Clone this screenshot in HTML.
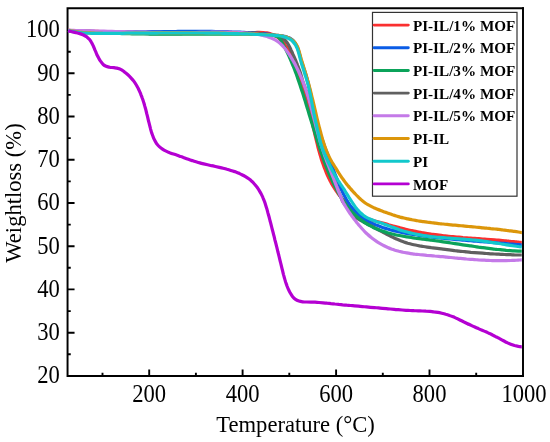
<!DOCTYPE html>
<html><head><meta charset="utf-8"><title>TGA</title>
<style>html,body{margin:0;padding:0;background:#fff}svg{display:block}</style></head>
<body>
<svg width="550" height="442" viewBox="0 0 550 442">
<rect width="550" height="442" fill="#fff"/>
<clipPath id="c"><rect x="67.25" y="8.15" width="454.55" height="367.85"/></clipPath>
<path d="M102.5,376.0v-3.2M149.2,376.0v-6.6M195.9,376.0v-3.2M242.6,376.0v-6.6M289.3,376.0v-3.2M336.1,376.0v-6.6M382.8,376.0v-3.2M429.5,376.0v-6.6M476.2,376.0v-3.2M67.55,375.9h7.0M67.55,354.3h3.2M67.55,332.7h7.0M67.55,311.1h3.2M67.55,289.4h7.0M67.55,267.8h3.2M67.55,246.2h7.0M67.55,224.6h3.2M67.55,203.0h7.0M67.55,181.4h3.2M67.55,159.7h7.0M67.55,138.1h3.2M67.55,116.5h7.0M67.55,94.9h3.2M67.55,73.3h7.0M67.55,51.7h3.2M67.55,30.1h7.0" stroke="#000" stroke-width="1.9" fill="none"/>
<path d="M67.55,7.15V377.0M66.55,376.0H524.0M66.55,8.15H524.0" fill="none" stroke="#000" stroke-width="1.95"/>
<g clip-path="url(#c)" fill="none" stroke-width="3.2" stroke-linecap="butt" stroke-linejoin="round">
<path stroke="#FA3030" d="M68.0,30.4C68.6,30.4 70.6,30.5 72.0,30.5C73.3,30.6 74.6,30.6 76.0,30.7C77.3,30.7 78.6,30.8 79.9,30.8C81.3,30.9 82.6,30.9 83.9,31.0C85.3,31.0 86.6,31.1 87.9,31.1C89.2,31.2 90.6,31.2 91.9,31.3C93.2,31.3 94.6,31.4 95.9,31.4C97.2,31.4 98.5,31.5 99.9,31.5C101.2,31.6 102.5,31.6 103.8,31.6C105.2,31.7 106.5,31.7 107.8,31.8C109.1,31.8 110.5,31.8 111.8,31.9C113.1,31.9 114.4,31.9 115.7,32.0C117.1,32.0 118.4,32.0 119.7,32.1C121.0,32.1 122.4,32.1 123.7,32.2C125.0,32.2 126.3,32.2 127.6,32.2C129.0,32.3 130.3,32.3 131.6,32.3C132.9,32.4 134.2,32.4 135.6,32.4C136.9,32.4 138.2,32.4 139.5,32.5C140.9,32.5 142.2,32.5 143.5,32.5C144.8,32.6 146.1,32.6 147.5,32.6C148.8,32.6 150.1,32.6 151.4,32.7C152.7,32.7 154.1,32.7 155.4,32.7C156.7,32.7 158.0,32.7 159.3,32.8C160.7,32.8 162.0,32.8 163.3,32.8C164.6,32.8 165.9,32.8 167.3,32.8C168.6,32.8 169.9,32.9 171.2,32.9C172.6,32.9 173.9,32.9 175.2,32.9C176.5,32.9 177.8,32.9 179.2,32.9C180.5,32.9 181.8,32.9 183.1,32.9C184.5,32.9 185.8,32.9 187.1,32.9C188.4,32.9 189.7,32.9 191.1,32.9C192.4,32.9 193.7,33.0 195.0,33.0C196.4,33.0 197.7,33.0 199.0,32.9C200.4,32.9 201.7,32.9 203.0,32.9C204.3,32.9 205.7,32.9 207.0,32.9C208.3,32.9 209.6,32.9 211.0,32.9C212.3,32.9 213.6,32.9 215.0,32.9C216.3,32.9 217.6,32.9 219.0,32.9C220.3,32.9 221.6,32.9 223.0,32.8C224.3,32.8 225.6,32.8 227.0,32.8C228.3,32.8 229.6,32.8 231.0,32.8C232.3,32.8 233.6,32.8 235.0,32.7C236.3,32.7 237.6,32.7 239.0,32.7C240.3,32.7 241.7,32.7 243.0,32.6C244.3,32.6 245.7,32.6 247.0,32.6C248.4,32.6 249.7,32.6 251.0,32.5C252.4,32.5 253.7,32.5 255.1,32.5C256.4,32.5 257.8,32.4 259.1,32.4C260.4,32.4 261.8,32.4 263.1,32.5C264.4,32.6 265.7,32.7 267.0,32.9C268.2,33.1 269.5,33.4 270.7,33.8C271.9,34.1 273.1,34.6 274.2,35.2C275.4,35.8 276.5,36.5 277.5,37.2C278.6,38.0 279.6,38.8 280.5,39.7C281.5,40.6 282.4,41.6 283.3,42.6C284.1,43.6 284.9,44.6 285.6,45.7C286.4,46.8 287.1,47.9 287.7,49.1C288.3,50.2 288.9,51.4 289.5,52.6C290.0,53.8 290.6,55.0 291.1,56.3C291.6,57.5 292.0,58.8 292.5,60.0C292.9,61.3 293.4,62.6 293.8,63.8C294.2,65.1 294.6,66.4 295.1,67.7C295.5,69.0 295.9,70.2 296.4,71.5C296.8,72.8 297.2,74.0 297.7,75.3C298.1,76.6 298.6,77.8 299.0,79.1C299.5,80.3 299.9,81.6 300.4,82.8C300.8,84.1 301.3,85.3 301.7,86.5C302.2,87.8 302.6,89.0 303.1,90.3C303.5,91.5 303.9,92.8 304.4,94.0C304.8,95.3 305.2,96.5 305.6,97.8C306.0,99.0 306.4,100.3 306.8,101.5C307.2,102.8 307.6,104.0 307.9,105.3C308.3,106.6 308.6,107.8 309.0,109.1C309.3,110.4 309.6,111.7 309.9,112.9C310.3,114.2 310.6,115.5 310.9,116.8C311.2,118.1 311.5,119.4 311.8,120.6C312.1,121.9 312.4,123.2 312.7,124.5C313.0,125.8 313.3,127.1 313.6,128.4C313.9,129.7 314.2,131.0 314.4,132.3C314.7,133.6 315.0,134.9 315.3,136.2C315.6,137.4 315.9,138.7 316.2,140.0C316.5,141.3 316.8,142.6 317.2,143.9C317.5,145.2 317.8,146.5 318.1,147.8C318.5,149.1 318.8,150.4 319.2,151.6C319.5,152.9 319.9,154.2 320.3,155.5C320.6,156.8 321.0,158.0 321.4,159.3C321.8,160.6 322.2,161.9 322.7,163.1C323.1,164.4 323.6,165.6 324.0,166.9C324.5,168.1 325.0,169.4 325.5,170.6C325.9,171.8 326.5,173.1 327.0,174.3C327.5,175.5 328.1,176.7 328.6,177.9C329.2,179.1 329.8,180.3 330.4,181.4C331.0,182.6 331.7,183.7 332.3,184.9C333.0,186.0 333.7,187.1 334.4,188.2C335.1,189.4 335.8,190.4 336.6,191.5C337.3,192.6 338.1,193.6 338.9,194.7C339.7,195.7 340.6,196.7 341.4,197.7C342.3,198.7 343.2,199.7 344.1,200.7C345.0,201.6 346.0,202.6 346.9,203.5C347.9,204.4 348.8,205.3 349.8,206.2C350.8,207.1 351.8,208.0 352.8,208.9C353.8,209.8 354.9,210.6 355.9,211.5C356.9,212.3 358.0,213.1 359.1,213.9C360.1,214.6 361.3,215.3 362.4,216.0C363.5,216.6 364.7,217.2 365.9,217.8C367.0,218.4 368.2,218.8 369.5,219.3C370.7,219.8 372.0,220.1 373.2,220.5C374.5,220.9 375.8,221.2 377.1,221.5C378.3,221.9 379.6,222.2 380.9,222.5C382.2,222.8 383.5,223.2 384.8,223.5C386.1,223.9 387.3,224.3 388.6,224.7C389.9,225.0 391.2,225.4 392.4,225.8C393.7,226.1 395.0,226.5 396.3,226.8C397.5,227.2 398.8,227.5 400.1,227.9C401.4,228.2 402.7,228.5 404.0,228.8C405.2,229.2 406.5,229.5 407.8,229.8C409.1,230.1 410.4,230.3 411.7,230.6C413.0,230.9 414.3,231.2 415.6,231.4C416.9,231.7 418.2,231.9 419.5,232.2C420.8,232.4 422.1,232.7 423.4,232.9C424.7,233.1 426.0,233.3 427.3,233.5C428.6,233.8 429.9,234.0 431.2,234.2C432.6,234.3 433.9,234.5 435.2,234.7C436.5,234.9 437.8,235.1 439.1,235.2C440.4,235.4 441.7,235.5 443.1,235.7C444.4,235.8 445.7,236.0 447.0,236.1C448.3,236.3 449.6,236.4 451.0,236.5C452.3,236.6 453.6,236.8 454.9,236.9C456.2,237.0 457.6,237.1 458.9,237.2C460.2,237.3 461.5,237.4 462.9,237.6C464.2,237.7 465.5,237.8 466.8,237.9C468.1,238.0 469.5,238.1 470.8,238.2C472.1,238.3 473.4,238.3 474.8,238.4C476.1,238.5 477.4,238.6 478.7,238.7C480.1,238.8 481.4,238.9 482.7,239.0C484.0,239.1 485.4,239.2 486.7,239.3C488.0,239.4 489.3,239.5 490.6,239.6C492.0,239.7 493.3,239.8 494.6,239.9C495.9,240.0 497.3,240.1 498.6,240.2C499.9,240.3 501.2,240.4 502.5,240.5C503.9,240.6 505.2,240.7 506.5,240.9C507.8,241.0 509.1,241.1 510.5,241.3C511.8,241.4 513.1,241.5 514.4,241.7C515.7,241.8 517.0,242.0 518.4,242.1C519.7,242.3 521.6,242.5 522.3,242.6"/>
<path stroke="#0A5CE6" d="M68.0,30.4C68.7,30.5 70.7,30.6 72.0,30.6C73.3,30.7 74.7,30.8 76.0,30.8C77.3,30.9 78.6,31.0 80.0,31.0C81.3,31.1 82.6,31.1 84.0,31.2C85.3,31.2 86.6,31.3 88.0,31.3C89.3,31.4 90.6,31.4 91.9,31.4C93.3,31.5 94.6,31.5 95.9,31.5C97.3,31.6 98.6,31.6 99.9,31.6C101.3,31.6 102.6,31.7 103.9,31.7C105.3,31.7 106.6,31.7 107.9,31.7C109.3,31.8 110.6,31.8 111.9,31.8C113.3,31.8 114.6,31.8 115.9,31.8C117.2,31.8 118.6,31.8 119.9,31.8C121.2,31.8 122.6,31.8 123.9,31.8C125.2,31.8 126.6,31.8 127.9,31.8C129.2,31.8 130.6,31.8 131.9,31.8C133.2,31.8 134.6,31.8 135.9,31.8C137.2,31.8 138.6,31.8 139.9,31.8C141.2,31.8 142.6,31.8 143.9,31.8C145.2,31.8 146.6,31.7 147.9,31.7C149.2,31.7 150.6,31.7 151.9,31.7C153.2,31.7 154.6,31.7 155.9,31.7C157.2,31.6 158.5,31.6 159.9,31.6C161.2,31.6 162.5,31.6 163.9,31.6C165.2,31.6 166.5,31.5 167.9,31.5C169.2,31.5 170.5,31.5 171.9,31.5C173.2,31.5 174.5,31.5 175.9,31.5C177.2,31.5 178.5,31.4 179.9,31.4C181.2,31.4 182.5,31.4 183.9,31.4C185.2,31.4 186.5,31.4 187.9,31.4C189.2,31.4 190.5,31.4 191.9,31.4C193.2,31.4 194.5,31.4 195.8,31.4C197.2,31.4 198.5,31.4 199.8,31.4C201.2,31.4 202.5,31.4 203.8,31.4C205.2,31.4 206.5,31.4 207.8,31.4C209.2,31.4 210.5,31.4 211.8,31.4C213.1,31.5 214.5,31.5 215.8,31.5C217.1,31.5 218.5,31.5 219.8,31.6C221.1,31.6 222.5,31.6 223.8,31.6C225.1,31.7 226.4,31.7 227.8,31.7C229.1,31.8 230.4,31.8 231.8,31.9C233.1,31.9 234.4,31.9 235.8,32.0C237.1,32.0 238.4,32.1 239.7,32.1C241.1,32.2 242.4,32.3 243.7,32.3C245.1,32.4 246.4,32.5 247.7,32.5C249.0,32.6 250.4,32.7 251.7,32.8C253.0,32.9 254.4,32.9 255.7,33.0C257.0,33.1 258.4,33.2 259.7,33.4C261.0,33.5 262.3,33.6 263.7,33.7C265.0,33.8 266.3,34.0 267.7,34.1C269.0,34.3 270.3,34.4 271.7,34.6C273.0,34.7 274.3,34.9 275.7,35.1C277.0,35.2 278.4,35.4 279.7,35.6C281.0,35.8 282.4,36.0 283.7,36.2C285.0,36.5 286.3,36.7 287.6,37.2C288.8,37.6 290.0,38.1 291.0,38.8C292.0,39.4 293.0,40.2 293.8,41.2C294.6,42.1 295.3,43.2 295.9,44.3C296.6,45.4 297.1,46.6 297.6,47.9C298.1,49.2 298.5,50.5 298.9,51.9C299.3,53.2 299.7,54.6 300.0,56.0C300.4,57.3 300.8,58.7 301.1,60.0C301.5,61.3 301.9,62.6 302.3,63.9C302.7,65.1 303.2,66.4 303.6,67.6C304.0,68.9 304.4,70.1 304.8,71.3C305.2,72.6 305.6,73.8 306.0,75.0C306.4,76.3 306.7,77.5 307.1,78.8C307.4,80.1 307.8,81.4 308.1,82.6C308.4,83.9 308.7,85.2 309.0,86.5C309.3,87.8 309.6,89.1 309.9,90.4C310.2,91.7 310.5,93.0 310.7,94.3C311.0,95.7 311.3,97.0 311.6,98.3C311.8,99.6 312.1,100.9 312.4,102.3C312.6,103.6 312.9,104.9 313.2,106.2C313.4,107.5 313.7,108.9 314.0,110.2C314.3,111.5 314.6,112.8 314.9,114.1C315.2,115.4 315.5,116.7 315.8,118.0C316.1,119.3 316.4,120.6 316.8,121.9C317.1,123.2 317.4,124.4 317.8,125.7C318.2,127.0 318.5,128.2 318.9,129.5C319.3,130.7 319.7,132.0 320.1,133.2C320.5,134.5 320.9,135.7 321.3,137.0C321.7,138.2 322.1,139.4 322.6,140.7C323.0,141.9 323.4,143.1 323.9,144.4C324.3,145.6 324.7,146.8 325.2,148.0C325.7,149.3 326.1,150.5 326.6,151.7C327.0,153.0 327.5,154.2 328.0,155.4C328.4,156.7 328.9,157.9 329.4,159.1C329.8,160.4 330.3,161.6 330.8,162.9C331.3,164.1 331.8,165.4 332.2,166.6C332.7,167.9 333.2,169.1 333.7,170.4C334.1,171.6 334.6,172.9 335.1,174.2C335.6,175.5 336.1,176.7 336.6,178.0C337.1,179.3 337.5,180.5 338.1,181.8C338.6,183.1 339.1,184.3 339.6,185.6C340.1,186.8 340.7,188.1 341.2,189.3C341.8,190.5 342.4,191.8 342.9,193.0C343.5,194.2 344.1,195.4 344.8,196.5C345.4,197.7 346.0,198.9 346.7,200.0C347.4,201.1 348.1,202.3 348.8,203.3C349.5,204.4 350.3,205.5 351.0,206.5C351.8,207.6 352.6,208.6 353.5,209.6C354.3,210.6 355.2,211.5 356.1,212.4C357.0,213.3 357.9,214.2 358.9,215.1C359.9,215.9 360.9,216.7 361.9,217.5C363.0,218.3 364.1,219.0 365.2,219.7C366.4,220.4 367.5,221.1 368.7,221.7C369.9,222.3 371.1,222.9 372.4,223.5C373.6,224.1 374.9,224.6 376.1,225.1C377.4,225.6 378.7,226.1 380.0,226.5C381.3,227.0 382.6,227.4 383.9,227.9C385.2,228.3 386.5,228.7 387.8,229.0C389.1,229.4 390.4,229.8 391.7,230.1C393.0,230.4 394.3,230.8 395.6,231.1C396.9,231.4 398.1,231.7 399.4,231.9C400.7,232.2 402.0,232.5 403.3,232.7C404.6,233.0 405.9,233.2 407.2,233.5C408.5,233.7 409.8,233.9 411.1,234.1C412.4,234.3 413.7,234.5 415.0,234.7C416.3,234.9 417.6,235.1 418.9,235.3C420.2,235.5 421.5,235.7 422.8,235.8C424.1,236.0 425.4,236.2 426.7,236.3C428.0,236.5 429.3,236.7 430.7,236.8C432.0,237.0 433.3,237.1 434.6,237.3C435.9,237.4 437.2,237.6 438.6,237.7C439.9,237.9 441.2,238.0 442.5,238.2C443.9,238.3 445.2,238.4 446.5,238.6C447.8,238.7 449.2,238.8 450.5,239.0C451.8,239.1 453.2,239.2 454.5,239.3C455.8,239.5 457.2,239.6 458.5,239.7C459.8,239.8 461.2,239.9 462.5,240.1C463.8,240.2 465.2,240.3 466.5,240.4C467.8,240.5 469.2,240.6 470.5,240.7C471.8,240.8 473.2,241.0 474.5,241.1C475.8,241.2 477.2,241.3 478.5,241.4C479.8,241.5 481.2,241.6 482.5,241.7C483.8,241.8 485.2,241.9 486.5,242.0C487.8,242.1 489.2,242.2 490.5,242.3C491.8,242.4 493.2,242.6 494.5,242.7C495.8,242.8 497.2,242.9 498.5,243.0C499.8,243.1 501.1,243.2 502.5,243.3C503.8,243.4 505.1,243.5 506.4,243.6C507.8,243.8 509.1,243.9 510.4,244.0C511.7,244.1 513.1,244.2 514.4,244.3C515.7,244.5 517.0,244.6 518.3,244.7C519.6,244.8 521.6,245.0 522.3,245.1"/>
<path stroke="#606060" d="M68.0,30.5C68.7,30.5 70.6,30.6 72.0,30.7C73.3,30.8 74.6,30.9 75.9,31.0C77.3,31.1 78.6,31.2 79.9,31.2C81.2,31.3 82.6,31.4 83.9,31.5C85.2,31.5 86.5,31.6 87.8,31.7C89.2,31.8 90.5,31.8 91.8,31.9C93.1,32.0 94.5,32.0 95.8,32.1C97.1,32.2 98.4,32.2 99.8,32.3C101.1,32.3 102.4,32.4 103.7,32.5C105.1,32.5 106.4,32.6 107.7,32.6C109.0,32.7 110.4,32.7 111.7,32.8C113.0,32.8 114.3,32.9 115.7,32.9C117.0,32.9 118.3,33.0 119.6,33.0C121.0,33.1 122.3,33.1 123.6,33.1C124.9,33.2 126.3,33.2 127.6,33.2C128.9,33.3 130.2,33.3 131.6,33.3C132.9,33.4 134.2,33.4 135.5,33.4C136.9,33.4 138.2,33.5 139.5,33.5C140.8,33.5 142.2,33.5 143.5,33.5C144.8,33.6 146.1,33.6 147.5,33.6C148.8,33.6 150.1,33.6 151.5,33.6C152.8,33.6 154.1,33.6 155.4,33.7C156.8,33.7 158.1,33.7 159.4,33.7C160.7,33.7 162.1,33.7 163.4,33.7C164.7,33.7 166.0,33.7 167.4,33.7C168.7,33.7 170.0,33.6 171.3,33.6C172.7,33.6 174.0,33.6 175.3,33.6C176.6,33.6 178.0,33.6 179.3,33.6C180.6,33.6 182.0,33.5 183.3,33.5C184.6,33.5 185.9,33.5 187.3,33.5C188.6,33.4 189.9,33.4 191.2,33.4C192.6,33.3 193.9,33.3 195.2,33.3C196.5,33.3 197.9,33.2 199.2,33.2C200.5,33.2 201.8,33.1 203.2,33.1C204.5,33.1 205.8,33.0 207.1,33.0C208.5,32.9 209.8,32.9 211.1,32.9C212.5,32.8 213.8,32.8 215.1,32.8C216.4,32.7 217.8,32.7 219.1,32.7C220.4,32.6 221.7,32.6 223.1,32.6C224.4,32.6 225.7,32.5 227.0,32.5C228.4,32.5 229.7,32.5 231.0,32.5C232.3,32.5 233.7,32.5 235.0,32.5C236.3,32.5 237.7,32.5 239.0,32.5C240.3,32.6 241.6,32.6 243.0,32.6C244.3,32.7 245.6,32.7 246.9,32.8C248.3,32.8 249.6,32.9 250.9,33.0C252.2,33.1 253.6,33.1 254.9,33.2C256.2,33.3 257.6,33.4 258.9,33.6C260.2,33.7 261.5,33.8 262.9,34.0C264.2,34.1 265.5,34.3 266.8,34.5C268.2,34.6 269.5,34.8 270.8,35.0C272.2,35.2 273.5,35.4 274.8,35.7C276.1,36.0 277.4,36.2 278.6,36.6C279.8,37.0 281.0,37.5 282.1,38.1C283.2,38.7 284.2,39.4 285.1,40.3C286.0,41.1 286.7,42.2 287.5,43.2C288.2,44.3 288.8,45.5 289.5,46.7C290.1,47.9 290.7,49.1 291.2,50.3C291.8,51.6 292.4,52.8 292.9,54.1C293.5,55.3 294.0,56.6 294.5,57.8C295.1,59.0 295.6,60.3 296.1,61.5C296.6,62.8 297.1,64.0 297.6,65.3C298.1,66.5 298.5,67.8 299.0,69.0C299.5,70.3 299.7,70.6 300.4,72.8C301.1,75.0 302.4,79.9 303.0,82.1C303.7,84.2 304.0,84.5 304.4,85.8C304.9,87.0 305.3,88.3 305.7,89.5C306.2,90.7 306.6,92.0 307.0,93.2C307.4,94.5 307.8,95.8 308.2,97.0C308.5,98.3 308.9,99.6 309.3,100.8C309.6,102.1 310.0,103.4 310.4,104.7C310.7,105.9 311.1,107.2 311.4,108.5C311.8,109.8 312.1,111.1 312.4,112.4C312.8,113.6 313.1,114.9 313.4,116.2C313.8,117.5 314.1,118.8 314.4,120.1C314.8,121.4 315.1,122.7 315.4,124.0C315.8,125.3 316.1,126.6 316.4,127.9C316.8,129.1 317.1,130.4 317.5,131.7C317.8,133.0 318.1,134.3 318.5,135.6C318.9,136.9 319.2,138.2 319.6,139.5C319.9,140.7 320.3,142.0 320.7,143.3C321.1,144.6 321.5,145.9 321.9,147.1C322.3,148.4 322.7,149.7 323.1,150.9C323.5,152.2 324.0,153.4 324.4,154.7C324.8,156.0 325.3,157.2 325.8,158.5C326.2,159.7 326.7,161.0 327.1,162.2C327.6,163.4 328.1,164.7 328.6,165.9C329.1,167.2 329.5,168.4 330.0,169.6C330.5,170.9 331.0,172.1 331.5,173.4C332.0,174.6 332.5,175.8 333.0,177.1C333.4,178.3 333.9,179.5 334.4,180.8C334.9,182.0 335.4,183.3 335.8,184.5C336.3,185.8 336.8,187.0 337.3,188.2C337.7,189.5 338.2,190.7 338.7,192.0C339.2,193.2 339.7,194.4 340.2,195.7C340.7,196.9 341.2,198.1 341.8,199.3C342.3,200.5 341.4,200.0 343.5,202.9C345.6,205.7 352.0,213.8 354.4,216.4C356.7,219.1 356.6,218.0 357.8,218.7C358.9,219.4 360.1,220.1 361.3,220.7C362.4,221.4 363.6,222.0 364.8,222.7C365.9,223.3 367.1,223.9 368.3,224.5C369.5,225.1 370.6,225.7 371.8,226.3C373.0,226.9 374.2,227.6 375.3,228.2C376.5,228.8 377.7,229.4 378.8,230.0C380.0,230.6 381.2,231.3 382.3,231.9C383.5,232.5 384.7,233.2 385.9,233.8C387.0,234.4 388.2,235.0 389.4,235.6C390.6,236.2 391.8,236.8 393.0,237.4C394.2,238.0 395.4,238.5 396.6,239.1C397.8,239.6 399.0,240.1 400.2,240.6C401.5,241.1 402.7,241.6 403.9,242.0C405.2,242.4 406.4,242.8 407.7,243.2C409.0,243.5 410.3,243.9 411.5,244.2C412.8,244.5 414.1,244.8 415.4,245.0C416.7,245.3 418.0,245.6 419.3,245.8C420.6,246.0 421.9,246.3 423.3,246.5C424.6,246.7 425.9,246.9 427.2,247.1C428.5,247.3 429.8,247.5 431.2,247.7C432.5,247.8 433.8,248.0 435.1,248.2C436.4,248.4 437.7,248.6 439.1,248.7C440.4,248.9 441.7,249.1 443.0,249.2C444.3,249.4 445.7,249.6 447.0,249.7C448.3,249.9 449.6,250.1 450.9,250.2C452.2,250.4 453.6,250.5 454.9,250.7C456.2,250.8 457.5,251.0 458.8,251.1C460.1,251.2 461.5,251.4 462.8,251.5C464.1,251.6 465.4,251.8 466.7,251.9C468.1,252.0 469.4,252.1 470.7,252.3C472.0,252.4 473.3,252.5 474.6,252.6C476.0,252.7 477.3,252.8 478.6,252.9C479.9,253.0 481.2,253.1 482.6,253.2C483.9,253.3 485.2,253.4 486.5,253.5C487.8,253.6 489.2,253.7 490.5,253.8C491.8,253.9 493.1,253.9 494.5,254.0C495.8,254.1 497.1,254.2 498.4,254.2C499.8,254.3 501.1,254.4 502.4,254.4C503.7,254.5 505.0,254.5 506.4,254.6C507.7,254.6 509.0,254.7 510.4,254.7C511.7,254.8 513.0,254.8 514.3,254.9C515.7,254.9 517.0,254.9 518.3,255.0C519.6,255.0 521.6,255.0 522.3,255.0"/>
<path stroke="#0BA35A" d="M68.0,30.6C68.7,30.7 70.7,30.8 72.0,30.9C73.3,31.0 74.6,31.2 76.0,31.3C77.3,31.4 78.6,31.4 80.0,31.5C81.3,31.6 82.6,31.7 83.9,31.8C85.3,31.9 86.6,32.0 87.9,32.1C89.3,32.1 90.6,32.2 91.9,32.3C93.3,32.4 94.6,32.4 95.9,32.5C97.2,32.6 98.6,32.7 99.9,32.7C101.2,32.8 102.6,32.8 103.9,32.9C105.2,33.0 106.6,33.0 107.9,33.1C109.2,33.1 110.6,33.2 111.9,33.2C113.2,33.3 114.5,33.3 115.9,33.4C117.2,33.4 118.5,33.4 119.9,33.5C121.2,33.5 122.5,33.6 123.9,33.6C125.2,33.6 126.5,33.7 127.9,33.7C129.2,33.7 130.5,33.8 131.9,33.8C133.2,33.8 134.5,33.8 135.9,33.9C137.2,33.9 138.5,33.9 139.9,33.9C141.2,33.9 142.5,34.0 143.9,34.0C145.2,34.0 146.5,34.0 147.9,34.0C149.2,34.0 150.5,34.1 151.9,34.1C153.2,34.1 154.5,34.1 155.9,34.1C157.2,34.1 158.5,34.1 159.9,34.1C161.2,34.1 162.5,34.1 163.9,34.1C165.2,34.1 166.5,34.2 167.9,34.2C169.2,34.2 170.5,34.2 171.9,34.2C173.2,34.2 174.5,34.2 175.9,34.2C177.2,34.2 178.5,34.2 179.9,34.2C181.2,34.2 182.5,34.2 183.9,34.2C185.2,34.2 186.5,34.2 187.8,34.2C189.2,34.2 190.5,34.2 191.8,34.2C193.2,34.1 194.5,34.1 195.8,34.1C197.2,34.1 198.5,34.1 199.8,34.1C201.2,34.1 202.5,34.1 203.8,34.1C205.2,34.1 206.5,34.1 207.8,34.1C209.2,34.1 210.5,34.1 211.8,34.1C213.2,34.1 214.5,34.1 215.8,34.1C217.2,34.1 218.5,34.1 219.8,34.1C221.2,34.1 222.5,34.1 223.8,34.1C225.2,34.1 226.5,34.1 227.8,34.1C229.2,34.1 230.5,34.1 231.8,34.1C233.2,34.1 234.5,34.1 235.8,34.2C237.1,34.2 238.5,34.2 239.8,34.2C241.1,34.2 242.5,34.2 243.8,34.2C245.1,34.2 246.5,34.2 247.8,34.2C249.1,34.3 250.5,34.3 251.8,34.3C253.1,34.3 254.5,34.3 255.8,34.4C257.1,34.4 258.5,34.4 259.8,34.5C261.1,34.5 262.5,34.6 263.8,34.6C265.2,34.7 266.5,34.8 267.9,34.9C269.2,35.0 270.6,35.1 272.0,35.3C273.3,35.5 274.8,35.5 276.0,36.0C277.2,36.4 278.2,37.1 279.1,37.9C280.0,38.8 280.7,40.0 281.4,41.1C282.0,42.3 282.7,43.5 283.3,44.7C283.9,45.8 284.5,47.0 285.2,48.2C285.8,49.4 286.3,50.6 286.9,51.8C287.5,53.0 288.1,54.2 288.6,55.4C289.2,56.6 289.7,57.8 290.3,59.1C290.8,60.3 291.3,61.5 291.8,62.8C292.3,64.0 292.8,65.2 293.3,66.5C293.8,67.7 294.3,68.9 294.8,70.2C295.2,71.4 295.7,72.7 296.2,73.9C296.6,75.2 297.1,76.5 297.5,77.7C297.9,79.0 298.4,80.2 298.8,81.5C299.2,82.8 299.7,84.0 300.1,85.3C300.5,86.6 300.9,87.8 301.3,89.1C301.8,90.4 302.2,91.6 302.6,92.9C303.0,94.2 303.4,95.5 303.8,96.7C304.2,98.0 304.6,99.3 305.0,100.6C305.4,101.8 305.7,103.1 306.1,104.4C306.5,105.7 306.9,106.9 307.3,108.2C307.7,109.5 308.1,110.7 308.5,112.0C308.9,113.3 309.2,114.6 309.6,115.8C310.0,117.1 310.4,118.4 310.8,119.7C311.2,120.9 311.6,122.2 312.0,123.5C312.3,124.8 312.7,126.0 313.1,127.3C313.5,128.6 313.9,129.8 314.3,131.1C314.7,132.4 315.1,133.7 315.5,134.9C315.9,136.2 316.3,137.5 316.7,138.7C317.1,140.0 317.5,141.3 317.9,142.5C318.3,143.8 318.7,145.1 319.1,146.3C319.5,147.6 319.9,148.9 320.3,150.1C320.7,151.4 321.2,152.7 321.6,153.9C322.0,155.2 322.5,156.4 322.9,157.7C323.3,158.9 323.8,160.2 324.2,161.4C324.7,162.7 325.2,163.9 325.6,165.2C326.1,166.4 326.6,167.7 327.1,168.9C327.6,170.1 328.0,171.4 328.6,172.6C329.1,173.8 329.6,175.0 330.1,176.3C330.7,177.5 331.2,178.7 331.8,179.9C332.3,181.1 332.9,182.3 333.5,183.5C334.0,184.7 334.6,185.9 335.3,187.1C335.9,188.3 336.5,189.4 337.1,190.6C337.8,191.8 338.4,192.9 339.1,194.1C339.8,195.2 340.5,196.4 341.2,197.5C341.9,198.7 342.6,199.8 343.4,200.9C344.1,202.0 344.9,203.1 345.7,204.2C346.5,205.3 347.3,206.4 348.1,207.4C349.0,208.5 349.8,209.5 350.7,210.5C351.6,211.5 352.5,212.5 353.5,213.4C354.4,214.4 355.4,215.3 356.4,216.2C357.4,217.1 358.4,217.9 359.4,218.8C360.5,219.6 361.6,220.4 362.6,221.1C363.7,221.9 364.8,222.7 365.9,223.4C367.1,224.1 368.2,224.7 369.3,225.4C370.5,226.0 371.7,226.6 372.8,227.2C374.0,227.8 375.2,228.3 376.4,228.8C377.6,229.3 378.8,229.8 380.1,230.3C381.3,230.7 382.5,231.2 383.8,231.6C385.0,232.0 386.3,232.4 387.5,232.7C388.8,233.1 390.1,233.4 391.4,233.8C392.7,234.1 394.0,234.4 395.2,234.7C396.5,235.0 397.9,235.3 399.2,235.5C400.5,235.8 401.8,236.0 403.1,236.2C404.4,236.5 405.8,236.7 407.1,236.9C408.4,237.1 409.8,237.3 411.1,237.5C412.4,237.7 413.8,237.9 415.1,238.1C416.4,238.2 417.8,238.4 419.1,238.6C420.5,238.8 421.8,238.9 423.2,239.1C424.5,239.3 425.8,239.4 427.2,239.6C428.5,239.8 429.8,239.9 431.2,240.1C432.5,240.3 433.8,240.5 435.2,240.7C436.5,240.8 437.8,241.0 439.1,241.2C440.5,241.4 441.8,241.6 443.1,241.8C444.4,242.0 445.8,242.2 447.1,242.4C448.4,242.6 449.7,242.8 451.0,243.0C452.3,243.2 453.6,243.4 455.0,243.6C456.3,243.8 457.6,244.0 458.9,244.2C460.2,244.4 461.5,244.6 462.8,244.8C464.1,245.0 465.4,245.2 466.7,245.4C468.0,245.6 469.4,245.7 470.7,245.9C472.0,246.1 473.3,246.3 474.6,246.5C475.9,246.7 477.2,246.9 478.5,247.1C479.8,247.2 481.1,247.4 482.4,247.6C483.8,247.8 485.1,248.0 486.4,248.1C487.7,248.3 489.0,248.5 490.3,248.6C491.6,248.8 493.0,248.9 494.3,249.1C495.6,249.2 496.9,249.4 498.3,249.5C499.6,249.6 500.9,249.8 502.2,249.9C503.6,250.0 504.9,250.1 506.2,250.3C507.6,250.4 508.9,250.5 510.2,250.6C511.6,250.7 512.9,250.8 514.3,250.8C515.6,250.9 516.9,251.0 518.3,251.1C519.6,251.1 521.7,251.2 522.4,251.2"/>
<path stroke="#C47AE8" d="M68.0,30.3C68.7,30.3 70.7,30.4 72.0,30.4C73.3,30.4 74.7,30.5 76.0,30.5C77.3,30.5 78.6,30.6 80.0,30.6C81.3,30.6 82.6,30.7 84.0,30.7C85.3,30.7 86.6,30.8 88.0,30.8C89.3,30.8 90.6,30.9 92.0,30.9C93.3,30.9 94.6,31.0 95.9,31.0C97.3,31.0 98.6,31.1 99.9,31.1C101.3,31.1 102.6,31.2 103.9,31.2C105.3,31.3 106.6,31.3 107.9,31.3C109.3,31.4 110.6,31.4 111.9,31.4C113.3,31.5 114.6,31.5 115.9,31.5C117.3,31.6 118.6,31.6 119.9,31.6C121.2,31.7 122.6,31.7 123.9,31.7C125.2,31.8 126.6,31.8 127.9,31.8C129.2,31.9 130.6,31.9 131.9,31.9C133.2,32.0 134.6,32.0 135.9,32.0C137.2,32.0 138.6,32.1 139.9,32.1C141.2,32.1 142.5,32.1 143.9,32.2C145.2,32.2 146.5,32.2 147.9,32.2C149.2,32.3 150.5,32.3 151.9,32.3C153.2,32.3 154.5,32.3 155.9,32.4C157.2,32.4 158.5,32.4 159.9,32.4C161.2,32.4 162.5,32.4 163.9,32.5C165.2,32.5 166.5,32.5 167.8,32.5C169.2,32.5 170.5,32.5 171.8,32.5C173.2,32.5 174.5,32.5 175.8,32.5C177.2,32.5 178.5,32.5 179.8,32.5C181.2,32.5 182.5,32.5 183.8,32.5C185.1,32.5 186.5,32.5 187.8,32.5C189.1,32.5 190.5,32.5 191.8,32.5C193.1,32.5 194.5,32.5 195.8,32.5C197.1,32.4 198.5,32.4 199.8,32.4C201.1,32.4 202.4,32.4 203.8,32.3C205.1,32.3 206.4,32.3 207.8,32.3C209.1,32.3 210.4,32.2 211.8,32.2C213.1,32.2 214.4,32.2 215.7,32.2C217.1,32.1 218.4,32.1 219.7,32.1C221.1,32.1 222.4,32.1 223.7,32.1C225.1,32.1 226.4,32.1 227.7,32.1C229.1,32.2 230.4,32.2 231.7,32.2C233.1,32.3 234.4,32.3 235.7,32.4C237.0,32.4 238.4,32.5 239.7,32.5C241.0,32.6 242.4,32.7 243.7,32.8C245.1,32.9 246.4,33.0 247.7,33.2C249.1,33.3 250.4,33.4 251.7,33.6C253.1,33.7 254.4,33.9 255.7,34.1C257.1,34.3 258.4,34.5 259.7,34.7C261.1,35.0 262.4,35.2 263.7,35.6C265.0,35.9 266.3,36.2 267.5,36.6C268.8,37.0 270.0,37.4 271.2,37.9C272.4,38.4 273.6,39.0 274.7,39.6C275.8,40.2 276.9,40.9 278.0,41.7C279.0,42.4 280.0,43.3 280.9,44.2C281.9,45.1 282.8,46.0 283.6,47.0C284.5,48.0 285.4,49.1 286.2,50.1C287.0,51.2 287.8,52.3 288.5,53.4C289.3,54.5 290.0,55.7 290.7,56.8C291.4,58.0 292.1,59.1 292.8,60.3C293.5,61.4 294.1,62.6 294.8,63.8C295.4,65.0 296.0,66.2 296.6,67.4C297.2,68.6 297.8,69.8 298.4,71.0C299.0,72.2 299.5,73.5 300.0,74.7C300.6,75.9 301.1,77.1 301.6,78.4C302.1,79.6 302.6,80.8 303.0,82.1C303.5,83.3 304.0,84.5 304.4,85.8C304.9,87.0 305.3,88.3 305.7,89.5C306.2,90.7 306.6,92.0 307.0,93.2C307.4,94.5 307.8,95.8 308.2,97.0C308.5,98.3 308.9,99.6 309.3,100.8C309.6,102.1 310.0,103.4 310.4,104.7C310.7,105.9 311.1,107.2 311.4,108.5C311.8,109.8 312.1,111.1 312.4,112.4C312.8,113.6 313.1,114.9 313.4,116.2C313.8,117.5 314.1,118.8 314.4,120.1C314.8,121.4 315.1,122.7 315.4,124.0C315.8,125.3 316.1,126.6 316.4,127.9C316.8,129.1 317.1,130.4 317.5,131.7C317.8,133.0 318.1,134.3 318.5,135.6C318.9,136.9 319.2,138.2 319.6,139.5C319.9,140.7 320.3,142.0 320.7,143.3C321.1,144.6 321.5,145.9 321.9,147.1C322.3,148.4 322.7,149.7 323.1,150.9C323.5,152.2 324.0,153.4 324.4,154.7C324.8,156.0 325.3,157.2 325.8,158.5C326.2,159.7 326.7,161.0 327.1,162.2C327.6,163.4 328.1,164.7 328.6,165.9C329.1,167.2 329.5,168.4 330.0,169.6C330.5,170.9 331.0,172.1 331.5,173.4C332.0,174.6 332.5,175.8 333.0,177.1C333.4,178.3 333.9,179.5 334.4,180.8C334.9,182.0 335.4,183.3 335.8,184.5C336.3,185.8 336.8,187.0 337.3,188.2C337.7,189.5 338.2,190.7 338.7,192.0C339.2,193.2 339.7,194.4 340.2,195.7C340.7,196.9 341.2,198.1 341.8,199.3C342.3,200.5 342.9,201.7 343.5,202.9C344.1,204.0 344.8,205.2 345.4,206.3C346.1,207.5 346.8,208.6 347.5,209.7C348.2,210.8 348.9,211.9 349.7,213.0C350.5,214.1 351.2,215.2 352.0,216.3C352.8,217.3 353.6,218.4 354.4,219.5C355.3,220.5 356.1,221.6 356.9,222.7C357.8,223.7 358.6,224.8 359.5,225.8C360.3,226.8 361.2,227.8 362.1,228.8C363.0,229.8 363.9,230.8 364.9,231.8C365.8,232.7 366.8,233.6 367.8,234.5C368.7,235.4 369.7,236.3 370.8,237.1C371.8,238.0 372.9,238.8 373.9,239.5C375.0,240.3 376.1,241.1 377.2,241.8C378.3,242.5 379.5,243.2 380.6,243.8C381.8,244.5 382.9,245.1 384.1,245.7C385.3,246.3 386.5,246.9 387.7,247.4C388.9,247.9 390.1,248.4 391.4,248.9C392.6,249.3 393.9,249.8 395.1,250.2C396.4,250.6 397.7,250.9 398.9,251.3C400.2,251.6 401.5,251.9 402.8,252.2C404.1,252.5 405.4,252.7 406.7,252.9C408.0,253.2 409.3,253.4 410.7,253.6C412.0,253.8 413.3,253.9 414.6,254.1C416.0,254.2 417.3,254.4 418.6,254.5C420.0,254.7 421.3,254.8 422.6,254.9C424.0,255.0 425.3,255.1 426.7,255.3C428.0,255.4 429.3,255.5 430.7,255.6C432.0,255.7 433.3,255.8 434.7,256.0C436.0,256.1 437.3,256.2 438.7,256.3C440.0,256.5 441.3,256.6 442.7,256.7C444.0,256.8 445.3,257.0 446.6,257.1C448.0,257.2 449.3,257.4 450.6,257.5C451.9,257.6 453.3,257.7 454.6,257.9C455.9,258.0 457.2,258.1 458.6,258.3C459.9,258.4 461.2,258.5 462.5,258.6C463.8,258.7 465.2,258.8 466.5,259.0C467.8,259.1 469.1,259.2 470.5,259.3C471.8,259.4 473.1,259.5 474.4,259.6C475.7,259.7 477.1,259.8 478.4,259.9C479.7,259.9 481.0,260.0 482.4,260.1C483.7,260.2 485.0,260.2 486.3,260.3C487.7,260.4 489.0,260.4 490.3,260.5C491.6,260.5 493.0,260.6 494.3,260.6C495.6,260.6 496.9,260.6 498.3,260.7C499.6,260.7 500.9,260.7 502.3,260.7C503.6,260.7 504.9,260.7 506.3,260.6C507.6,260.6 508.9,260.6 510.3,260.5C511.6,260.5 512.9,260.4 514.3,260.4C515.6,260.3 517.0,260.2 518.3,260.1C519.6,260.0 521.7,259.8 522.3,259.8"/>
<path stroke="#DC960A" d="M68.0,30.3C68.7,30.4 70.6,30.8 71.9,31.0C73.2,31.2 74.6,31.4 75.9,31.6C77.2,31.8 78.5,31.9 79.8,32.1C81.1,32.2 82.4,32.4 83.8,32.5C85.1,32.6 86.4,32.7 87.7,32.8C89.0,32.9 90.4,33.0 91.7,33.1C93.0,33.2 94.3,33.2 95.6,33.3C97.0,33.3 98.3,33.4 99.6,33.4C100.9,33.4 102.3,33.5 103.6,33.5C104.9,33.5 106.2,33.5 107.6,33.5C108.9,33.5 110.2,33.5 111.5,33.5C112.9,33.5 114.2,33.5 115.5,33.5C116.9,33.5 118.2,33.5 119.5,33.5C120.8,33.4 122.2,33.4 123.5,33.4C124.8,33.4 126.2,33.4 127.5,33.3C128.8,33.3 130.1,33.3 131.5,33.3C132.8,33.2 134.1,33.2 135.5,33.2C136.8,33.2 138.1,33.1 139.4,33.1C140.8,33.1 142.1,33.1 143.4,33.1C144.8,33.0 146.1,33.0 147.4,33.0C148.8,33.0 150.1,33.0 151.4,33.0C152.7,33.0 154.1,33.0 155.4,32.9C156.7,32.9 158.1,32.9 159.4,32.9C160.7,32.9 162.0,32.9 163.4,32.9C164.7,32.9 166.0,32.9 167.3,32.9C168.7,32.9 170.0,32.9 171.3,32.9C172.7,32.9 174.0,32.9 175.3,32.9C176.6,32.9 178.0,32.9 179.3,32.9C180.6,32.9 181.9,32.9 183.3,32.9C184.6,32.9 185.9,32.9 187.2,32.9C188.6,32.9 189.9,32.9 191.2,32.9C192.5,32.9 193.8,32.9 195.2,33.0C196.5,33.0 197.8,33.0 199.1,33.0C200.4,33.0 201.8,33.0 203.1,33.0C204.4,33.0 205.7,33.0 207.0,33.0C208.3,33.0 209.7,33.1 211.0,33.1C212.3,33.1 213.6,33.1 214.9,33.1C216.2,33.1 217.6,33.1 218.9,33.2C220.2,33.2 221.5,33.2 222.8,33.2C224.1,33.2 225.5,33.2 226.8,33.3C228.1,33.3 229.4,33.3 230.7,33.3C232.1,33.4 233.4,33.4 234.7,33.4C236.0,33.4 237.3,33.5 238.7,33.5C240.0,33.5 241.3,33.6 242.6,33.6C244.0,33.6 245.3,33.7 246.6,33.7C247.9,33.8 249.3,33.8 250.6,33.9C251.9,33.9 253.3,34.0 254.6,34.0C255.9,34.1 257.3,34.1 258.6,34.2C260.0,34.2 261.3,34.3 262.6,34.3C264.0,34.4 265.3,34.5 266.7,34.5C268.0,34.6 269.4,34.7 270.7,34.8C272.1,34.8 273.4,34.9 274.8,35.0C276.1,35.1 277.5,35.2 278.8,35.4C280.1,35.5 281.5,35.7 282.7,36.0C284.0,36.2 285.3,36.6 286.5,37.0C287.7,37.4 288.9,37.9 290.1,38.6C291.2,39.2 292.3,39.9 293.2,40.8C294.2,41.6 295.1,42.6 295.8,43.7C296.6,44.7 297.1,45.9 297.7,47.1C298.2,48.4 298.6,49.7 299.0,51.0C299.4,52.3 299.7,53.6 300.1,54.9C300.4,56.2 300.8,57.5 301.1,58.7C301.5,60.0 301.9,61.3 302.3,62.5C302.7,63.8 303.1,65.1 303.5,66.3C303.8,67.6 304.2,68.9 304.6,70.1C305.0,71.4 305.4,72.6 305.8,73.9C306.2,75.2 306.5,76.5 306.9,77.7C307.3,79.0 307.6,80.3 308.0,81.6C308.4,82.8 308.7,84.1 309.1,85.4C309.4,86.7 309.8,88.0 310.1,89.2C310.4,90.5 310.8,91.8 311.1,93.1C311.4,94.4 311.7,95.7 312.0,97.0C312.3,98.2 312.7,99.5 313.0,100.8C313.3,102.1 313.6,103.4 313.9,104.7C314.2,106.0 314.5,107.3 314.8,108.6C315.1,109.8 315.4,111.1 315.7,112.4C316.0,113.7 316.3,115.0 316.6,116.3C316.9,117.6 317.2,118.9 317.5,120.2C317.8,121.5 318.2,122.7 318.5,124.0C318.8,125.3 319.1,126.6 319.5,127.9C319.8,129.2 320.1,130.4 320.5,131.7C320.8,133.0 321.2,134.3 321.5,135.6C321.9,136.8 322.2,138.1 322.6,139.4C323.0,140.7 323.4,141.9 323.8,143.2C324.2,144.5 324.6,145.7 325.1,147.0C325.5,148.2 326.0,149.5 326.4,150.7C326.9,151.9 327.4,153.1 328.0,154.3C328.5,155.6 329.1,156.8 329.7,157.9C330.3,159.1 330.9,160.3 331.6,161.4C332.2,162.6 333.0,163.7 333.7,164.8C334.4,166.0 335.1,167.1 335.8,168.2C336.5,169.3 337.2,170.4 337.9,171.6C338.6,172.7 339.3,173.8 340.0,174.9C340.8,176.0 341.5,177.2 342.2,178.2C343.0,179.3 343.8,180.4 344.6,181.4C345.4,182.5 346.2,183.5 347.0,184.6C347.9,185.6 348.7,186.6 349.6,187.6C350.5,188.6 351.3,189.6 352.2,190.6C353.1,191.6 354.0,192.6 354.9,193.5C355.8,194.5 356.7,195.5 357.7,196.4C358.6,197.4 359.6,198.3 360.6,199.2C361.5,200.0 362.5,200.9 363.6,201.7C364.6,202.5 365.7,203.3 366.8,204.0C367.9,204.7 369.1,205.3 370.2,205.9C371.4,206.6 372.6,207.1 373.8,207.7C375.0,208.2 376.3,208.7 377.5,209.2C378.7,209.7 380.0,210.2 381.3,210.7C382.5,211.2 383.8,211.6 385.0,212.1C386.3,212.5 387.5,213.0 388.8,213.4C390.0,213.9 391.3,214.3 392.5,214.8C393.8,215.2 395.0,215.6 396.3,216.0C397.5,216.4 398.8,216.7 400.1,217.1C401.3,217.4 402.6,217.7 403.9,218.0C405.2,218.4 406.5,218.6 407.8,218.9C409.1,219.2 410.4,219.5 411.7,219.7C413.0,220.0 414.3,220.2 415.6,220.4C416.9,220.6 418.2,220.9 419.5,221.1C420.8,221.3 422.2,221.4 423.5,221.6C424.8,221.8 426.1,222.0 427.4,222.2C428.7,222.3 430.1,222.5 431.4,222.7C432.7,222.8 434.0,223.0 435.3,223.1C436.7,223.3 438.0,223.4 439.3,223.6C440.6,223.7 441.9,223.9 443.3,224.0C444.6,224.2 445.9,224.3 447.2,224.4C448.5,224.6 449.9,224.7 451.2,224.8C452.5,225.0 453.8,225.1 455.1,225.2C456.4,225.3 457.8,225.5 459.1,225.6C460.4,225.7 461.7,225.8 463.0,225.9C464.4,226.1 465.7,226.2 467.0,226.3C468.3,226.4 469.6,226.6 471.0,226.7C472.3,226.8 473.6,226.9 474.9,227.0C476.2,227.2 477.5,227.3 478.9,227.4C480.2,227.5 481.5,227.7 482.8,227.8C484.1,227.9 485.5,228.0 486.8,228.2C488.1,228.3 489.4,228.4 490.7,228.6C492.0,228.7 493.4,228.9 494.7,229.0C496.0,229.1 497.3,229.3 498.6,229.4C499.9,229.6 501.3,229.7 502.6,229.9C503.9,230.0 505.2,230.2 506.5,230.4C507.8,230.5 509.2,230.7 510.5,230.9C511.8,231.1 513.1,231.2 514.4,231.4C515.7,231.6 517.1,231.8 518.4,232.0C519.7,232.2 521.6,232.5 522.3,232.6"/>
<path stroke="#12C8CC" d="M68.0,30.5C68.7,30.6 70.6,31.1 71.9,31.4C73.2,31.7 74.5,31.9 75.8,32.1C77.1,32.3 78.4,32.5 79.7,32.6C81.1,32.8 82.4,32.9 83.7,33.0C85.0,33.1 86.3,33.1 87.6,33.2C89.0,33.2 90.3,33.3 91.6,33.3C92.9,33.3 94.3,33.3 95.6,33.3C96.9,33.4 98.2,33.3 99.6,33.3C100.9,33.3 102.2,33.3 103.6,33.3C104.9,33.3 106.2,33.3 107.5,33.3C108.9,33.3 110.2,33.3 111.5,33.3C112.8,33.3 114.2,33.3 115.5,33.3C116.8,33.3 118.1,33.3 119.5,33.3C120.8,33.3 122.1,33.3 123.4,33.3C124.7,33.2 126.1,33.2 127.4,33.2C128.7,33.2 130.0,33.2 131.4,33.2C132.7,33.2 134.0,33.2 135.3,33.2C136.7,33.2 138.0,33.2 139.3,33.2C140.6,33.2 142.0,33.1 143.3,33.1C144.6,33.1 145.9,33.1 147.3,33.1C148.6,33.1 149.9,33.1 151.2,33.1C152.5,33.1 153.9,33.1 155.2,33.1C156.5,33.1 157.8,33.0 159.2,33.0C160.5,33.0 161.8,33.0 163.1,33.0C164.5,33.0 165.8,33.0 167.1,33.0C168.4,33.0 169.8,33.0 171.1,33.0C172.4,33.0 173.7,33.0 175.1,33.0C176.4,33.0 177.7,33.0 179.0,33.0C180.4,33.0 181.7,33.0 183.0,33.0C184.3,33.0 185.7,33.0 187.0,33.0C188.3,33.0 189.6,33.0 191.0,33.0C192.3,33.0 193.6,33.0 194.9,33.0C196.3,33.0 197.6,33.0 198.9,33.0C200.3,33.0 201.6,33.0 202.9,33.0C204.2,33.0 205.6,33.0 206.9,33.1C208.2,33.1 209.5,33.1 210.9,33.1C212.2,33.1 213.5,33.1 214.8,33.2C216.2,33.2 217.5,33.2 218.8,33.2C220.1,33.2 221.5,33.3 222.8,33.3C224.1,33.3 225.4,33.3 226.8,33.4C228.1,33.4 229.4,33.4 230.7,33.5C232.0,33.5 233.4,33.5 234.7,33.6C236.0,33.6 237.3,33.6 238.7,33.7C240.0,33.7 241.3,33.8 242.6,33.8C243.9,33.8 245.3,33.9 246.6,33.9C247.9,34.0 249.2,34.0 250.6,34.1C251.9,34.2 253.2,34.2 254.5,34.3C255.8,34.3 257.2,34.4 258.5,34.5C259.8,34.5 261.1,34.6 262.4,34.7C263.7,34.7 265.1,34.8 266.4,34.9C267.7,34.9 269.0,35.0 270.4,35.1C271.7,35.2 273.0,35.2 274.4,35.3C275.7,35.5 277.1,35.6 278.4,35.7C279.7,35.9 281.1,36.1 282.4,36.4C283.7,36.7 285.0,37.1 286.2,37.5C287.5,38.0 288.7,38.5 289.8,39.2C290.9,39.9 291.9,40.6 292.8,41.5C293.7,42.4 294.5,43.5 295.2,44.5C295.9,45.6 296.4,46.8 297.0,48.0C297.5,49.2 297.9,50.5 298.3,51.8C298.7,53.0 299.0,54.4 299.4,55.7C299.8,57.0 300.1,58.3 300.4,59.6C300.8,60.9 301.2,62.2 301.5,63.5C301.9,64.8 302.3,66.1 302.7,67.3C303.1,68.6 303.5,69.9 303.9,71.1C304.3,72.4 304.7,73.6 305.1,74.9C305.5,76.1 305.9,77.4 306.3,78.6C306.6,79.9 307.0,81.2 307.4,82.4C307.7,83.7 308.1,84.9 308.4,86.2C308.7,87.5 309.0,88.8 309.3,90.1C309.6,91.4 309.9,92.7 310.2,94.0C310.4,95.3 310.7,96.6 310.9,97.9C311.2,99.2 311.4,100.5 311.7,101.8C311.9,103.1 312.2,104.4 312.4,105.7C312.7,107.0 312.9,108.3 313.2,109.7C313.4,111.0 313.7,112.3 313.9,113.6C314.2,114.8 314.5,116.1 314.8,117.4C315.0,118.7 315.3,120.0 315.6,121.3C315.9,122.6 316.2,123.9 316.5,125.2C316.7,126.5 317.0,127.7 317.3,129.0C317.6,130.3 317.9,131.6 318.2,132.9C318.5,134.2 318.8,135.5 319.1,136.8C319.4,138.1 319.7,139.4 320.0,140.7C320.3,141.9 320.7,143.2 321.0,144.5C321.4,145.8 321.9,147.0 322.3,148.3C322.7,149.5 323.2,150.7 323.7,151.9C324.2,153.2 324.8,154.4 325.3,155.6C325.8,156.8 326.4,158.0 327.0,159.2C327.5,160.4 328.1,161.6 328.6,162.8C329.2,164.0 329.8,165.2 330.3,166.4C330.9,167.6 331.5,168.8 332.1,170.0C332.7,171.2 333.3,172.3 334.0,173.5C334.6,174.7 335.2,175.8 335.9,177.0C336.6,178.1 337.3,179.2 338.0,180.3C338.7,181.4 339.5,182.5 340.2,183.6C341.0,184.7 341.7,185.8 342.4,186.9C343.2,188.0 343.9,189.1 344.6,190.2C345.3,191.4 346.0,192.5 346.7,193.6C347.4,194.7 348.1,195.8 348.8,197.0C349.5,198.1 350.2,199.2 350.9,200.3C351.6,201.4 352.4,202.6 353.1,203.7C353.9,204.8 354.6,205.9 355.4,207.0C356.2,208.0 357.0,209.1 357.9,210.1C358.7,211.1 359.6,212.1 360.6,213.0C361.5,213.9 362.5,214.7 363.6,215.5C364.6,216.3 365.7,217.0 366.9,217.6C368.1,218.2 369.3,218.8 370.5,219.3C371.7,219.8 373.0,220.3 374.2,220.7C375.5,221.2 376.7,221.6 378.0,222.1C379.2,222.5 380.5,222.9 381.8,223.3C383.0,223.7 384.3,224.2 385.5,224.6C386.8,225.0 388.1,225.5 389.3,226.0C390.5,226.4 391.8,226.9 393.0,227.4C394.3,227.8 395.5,228.3 396.8,228.7C398.0,229.2 399.3,229.6 400.5,230.1C401.8,230.5 403.0,230.9 404.3,231.3C405.6,231.6 406.8,232.0 408.1,232.3C409.4,232.7 410.7,233.0 411.9,233.3C413.2,233.6 414.5,233.9 415.8,234.1C417.1,234.4 418.4,234.7 419.7,234.9C421.0,235.1 422.3,235.3 423.6,235.5C424.9,235.7 426.2,235.9 427.5,236.1C428.8,236.3 430.1,236.4 431.4,236.6C432.8,236.7 434.1,236.9 435.4,237.0C436.7,237.2 438.0,237.3 439.4,237.4C440.7,237.5 442.0,237.6 443.3,237.7C444.7,237.8 446.0,237.9 447.3,238.0C448.6,238.1 450.0,238.2 451.3,238.3C452.6,238.4 453.9,238.5 455.3,238.6C456.6,238.7 457.9,238.8 459.3,238.9C460.6,239.0 461.9,239.1 463.2,239.2C464.6,239.3 465.9,239.4 467.2,239.5C468.5,239.6 469.9,239.7 471.2,239.8C472.5,239.9 473.8,240.1 475.2,240.2C476.5,240.3 477.8,240.5 479.1,240.6C480.4,240.8 481.7,241.0 483.0,241.1C484.3,241.3 485.7,241.5 487.0,241.7C488.3,241.9 489.6,242.1 490.9,242.3C492.2,242.5 493.5,242.7 494.8,242.9C496.1,243.1 497.4,243.3 498.7,243.5C500.0,243.7 501.3,243.9 502.6,244.2C503.9,244.4 505.2,244.6 506.5,244.8C507.8,245.0 509.1,245.2 510.4,245.4C511.8,245.6 513.1,245.8 514.4,246.0C515.7,246.2 517.0,246.3 518.3,246.5C519.7,246.7 521.6,246.9 522.3,247.0"/>
<path stroke="#B400D2" d="M68.1,30.8C68.7,30.9 70.5,31.4 71.8,31.7C73.1,32.0 74.5,32.3 75.8,32.6C77.1,32.9 78.5,33.2 79.8,33.6C81.1,34.0 82.3,34.5 83.5,35.0C84.7,35.6 85.8,36.2 86.9,36.9C87.9,37.7 88.8,38.6 89.6,39.6C90.4,40.6 91.1,41.7 91.7,42.9C92.4,44.0 93.0,45.3 93.5,46.5C94.1,47.8 94.6,49.1 95.1,50.4C95.7,51.6 96.2,52.9 96.7,54.2C97.3,55.4 97.8,56.6 98.5,57.7C99.1,58.9 99.7,60.0 100.5,61.1C101.2,62.1 102.0,63.3 102.9,64.2C103.9,65.1 104.9,65.8 106.1,66.3C107.3,66.9 108.6,67.0 110.0,67.3C111.3,67.5 112.7,67.5 114.0,67.7C115.4,67.9 116.7,68.0 118.0,68.4C119.2,68.7 120.5,69.2 121.6,69.8C122.7,70.5 123.8,71.3 124.8,72.2C125.9,73.0 126.9,73.9 127.9,74.8C128.9,75.7 129.8,76.6 130.7,77.6C131.6,78.6 132.5,79.5 133.3,80.6C134.1,81.6 134.9,82.7 135.6,83.8C136.3,85.0 137.0,86.1 137.6,87.3C138.3,88.5 138.8,89.7 139.4,90.9C139.9,92.2 140.5,93.4 140.9,94.6C141.4,95.9 141.9,97.1 142.3,98.3C142.8,99.6 143.2,100.8 143.6,102.1C144.0,103.4 144.4,104.6 144.7,105.9C145.1,107.2 145.4,108.4 145.8,109.7C146.1,111.0 146.4,112.3 146.7,113.5C147.1,114.8 147.4,116.1 147.7,117.4C148.0,118.7 148.3,120.0 148.6,121.3C149.0,122.6 149.3,123.9 149.6,125.2C149.9,126.5 150.3,127.8 150.6,129.1C151.0,130.4 151.3,131.7 151.7,132.9C152.2,134.2 152.6,135.5 153.1,136.7C153.5,138.0 154.1,139.2 154.7,140.3C155.3,141.5 155.9,142.6 156.7,143.7C157.5,144.7 158.3,145.7 159.3,146.6C160.3,147.5 161.4,148.4 162.5,149.1C163.6,149.9 164.8,150.5 166.1,151.1C167.3,151.7 168.5,152.2 169.7,152.7C171.0,153.2 172.2,153.6 173.5,154.0C174.7,154.4 176.0,154.8 177.2,155.2C178.5,155.7 179.7,156.1 181.0,156.6C182.2,157.0 183.5,157.5 184.7,157.9C185.9,158.4 187.2,158.9 188.4,159.3C189.7,159.8 190.9,160.2 192.2,160.6C193.5,161.1 194.7,161.5 196.0,161.8C197.3,162.2 198.6,162.6 199.8,162.9C201.1,163.3 202.4,163.6 203.7,163.9C205.0,164.2 206.3,164.5 207.6,164.8C208.9,165.1 210.2,165.4 211.5,165.7C212.8,165.9 214.1,166.2 215.4,166.5C216.7,166.8 218.0,167.1 219.3,167.4C220.6,167.7 221.9,168.0 223.1,168.3C224.4,168.6 225.7,168.9 227.0,169.3C228.3,169.6 229.6,170.0 230.8,170.4C232.1,170.8 233.3,171.2 234.6,171.6C235.8,172.1 237.1,172.5 238.3,173.0C239.5,173.6 240.7,174.1 241.9,174.7C243.1,175.3 244.3,175.9 245.5,176.6C246.6,177.3 247.7,178.0 248.8,178.8C249.9,179.6 250.9,180.4 251.8,181.3C252.8,182.2 253.7,183.2 254.6,184.2C255.5,185.2 256.3,186.2 257.1,187.3C257.9,188.4 258.6,189.5 259.3,190.6C260.0,191.8 260.7,192.9 261.3,194.1C261.9,195.3 262.5,196.5 263.0,197.8C263.5,199.0 264.0,200.2 264.5,201.5C264.9,202.7 265.3,204.0 265.7,205.2C266.1,206.5 266.5,207.8 266.9,209.0C267.2,210.3 267.6,211.6 267.9,212.9C268.3,214.2 268.6,215.4 269.0,216.7C269.3,218.0 269.7,219.3 270.0,220.6C270.3,221.8 270.7,223.1 271.0,224.4C271.3,225.7 271.7,227.0 272.0,228.3C272.3,229.6 272.7,230.8 273.0,232.1C273.3,233.4 273.6,234.7 274.0,236.0C274.3,237.3 274.6,238.6 274.9,239.9C275.3,241.1 275.6,242.4 275.9,243.7C276.2,245.0 276.5,246.3 276.9,247.6C277.2,248.9 277.5,250.2 277.8,251.5C278.1,252.7 278.4,254.0 278.8,255.3C279.1,256.6 279.4,257.9 279.7,259.2C280.0,260.5 280.3,261.8 280.7,263.1C281.0,264.3 281.3,265.6 281.6,266.9C281.9,268.2 282.2,269.5 282.6,270.8C282.9,272.1 283.2,273.4 283.5,274.6C283.9,275.9 284.2,277.2 284.6,278.5C284.9,279.8 285.3,281.0 285.7,282.3C286.1,283.5 286.6,284.8 287.0,286.0C287.5,287.3 288.0,288.5 288.6,289.7C289.2,290.9 289.8,292.2 290.5,293.3C291.1,294.5 291.9,295.7 292.7,296.8C293.5,297.8 294.4,298.7 295.5,299.4C296.5,300.1 297.7,300.6 298.9,301.0C300.1,301.4 301.4,301.6 302.7,301.8C304.0,302.0 305.4,302.0 306.8,302.0C308.2,302.1 309.6,302.1 311.0,302.1C312.4,302.1 313.7,302.2 315.1,302.2C316.4,302.3 317.8,302.4 319.1,302.5C320.5,302.6 321.8,302.7 323.1,302.8C324.4,302.9 325.7,303.0 327.0,303.2C328.3,303.3 329.6,303.4 330.9,303.6C332.2,303.7 333.5,303.8 334.8,304.0C336.1,304.1 337.4,304.2 338.7,304.4C340.0,304.5 341.3,304.6 342.6,304.8C344.0,304.9 345.3,305.0 346.6,305.2C347.9,305.3 349.2,305.4 350.5,305.5C351.9,305.6 353.2,305.8 354.5,305.9C355.8,306.0 357.1,306.1 358.5,306.2C359.8,306.4 361.1,306.5 362.5,306.6C363.8,306.7 365.1,306.8 366.4,306.9C367.8,307.0 369.1,307.2 370.4,307.3C371.8,307.4 373.1,307.5 374.4,307.6C375.7,307.7 377.1,307.8 378.4,307.9C379.7,308.1 381.0,308.2 382.4,308.3C383.7,308.4 385.0,308.5 386.3,308.6C387.7,308.8 389.0,308.9 390.3,309.0C391.6,309.1 392.9,309.2 394.3,309.3C395.6,309.5 396.9,309.6 398.2,309.7C399.5,309.8 400.8,309.9 402.2,310.0C403.5,310.1 404.8,310.2 406.1,310.3C407.4,310.4 408.8,310.4 410.1,310.5C411.4,310.6 412.7,310.6 414.1,310.7C415.4,310.7 416.7,310.8 418.1,310.8C419.4,310.9 420.7,310.9 422.1,311.0C423.4,311.0 424.7,311.1 426.0,311.2C427.4,311.2 428.7,311.3 430.0,311.4C431.3,311.6 432.7,311.7 434.0,311.9C435.3,312.0 436.6,312.2 437.9,312.4C439.2,312.6 440.5,312.9 441.8,313.2C443.1,313.5 444.4,313.8 445.7,314.2C447.0,314.5 448.2,314.9 449.5,315.4C450.7,315.8 452.0,316.3 453.2,316.8C454.4,317.3 455.6,317.9 456.8,318.4C458.0,319.0 459.2,319.6 460.4,320.2C461.6,320.8 462.8,321.4 464.0,322.0C465.2,322.5 466.4,323.1 467.6,323.7C468.8,324.3 470.0,324.8 471.2,325.4C472.4,326.0 473.6,326.5 474.8,327.0C476.0,327.6 477.2,328.1 478.4,328.6C479.7,329.2 480.9,329.7 482.1,330.2C483.3,330.7 484.5,331.3 485.8,331.8C487.0,332.3 488.2,332.9 489.4,333.4C490.6,334.0 491.8,334.6 493.0,335.2C494.2,335.7 495.3,336.4 496.5,337.0C497.7,337.6 498.8,338.3 500.0,338.9C501.2,339.6 502.3,340.2 503.5,340.8C504.7,341.4 505.8,342.1 507.0,342.6C508.2,343.2 509.4,343.7 510.7,344.2C511.9,344.7 513.2,345.1 514.5,345.5C515.8,345.8 517.1,346.1 518.4,346.4C519.7,346.6 521.7,346.9 522.3,347.0"/>
</g>
<path d="M523.0,7.15V377.0" fill="none" stroke="#000" stroke-width="1.95"/>
<g font-family="'Liberation Serif', serif" font-size="23.5" fill="#000">
<text transform="translate(149.2,401.6) scale(0.962,1.03)" text-anchor="middle">200</text>
<text transform="translate(242.6,401.6) scale(0.962,1.03)" text-anchor="middle">400</text>
<text transform="translate(336.1,401.6) scale(0.962,1.03)" text-anchor="middle">600</text>
<text transform="translate(429.5,401.6) scale(0.962,1.03)" text-anchor="middle">800</text>
<text transform="translate(524.0,401.6) scale(0.962,1.03)" text-anchor="middle">1000</text>
<text transform="translate(59.9,383.2) scale(0.962,1.03)" text-anchor="end">20</text>
<text transform="translate(59.9,340.0) scale(0.962,1.03)" text-anchor="end">30</text>
<text transform="translate(59.9,296.7) scale(0.962,1.03)" text-anchor="end">40</text>
<text transform="translate(59.9,253.5) scale(0.962,1.03)" text-anchor="end">50</text>
<text transform="translate(59.9,210.3) scale(0.962,1.03)" text-anchor="end">60</text>
<text transform="translate(59.9,167.0) scale(0.962,1.03)" text-anchor="end">70</text>
<text transform="translate(59.9,123.8) scale(0.962,1.03)" text-anchor="end">80</text>
<text transform="translate(59.9,80.6) scale(0.962,1.03)" text-anchor="end">90</text>
<text transform="translate(59.9,37.4) scale(0.962,1.03)" text-anchor="end">100</text>
</g>
<g font-family="'Liberation Serif', serif" font-size="22.6" fill="#000">
<text x="295.6" y="432" text-anchor="middle">Temperature (°C)</text>
<text transform="translate(20.9,193) rotate(-90)" text-anchor="middle">Weightloss (%)</text>
</g>
<rect x="372.5" y="12.4" width="144.5" height="183.8" fill="#fff" stroke="#333" stroke-width="1.2"/>
<g font-family="'Liberation Serif', serif" font-size="15.25" font-weight="bold" fill="#000">
<path d="M374.1,25.1H408.3" stroke="#FA3030" stroke-width="2.9" stroke-linecap="round" fill="none"/>
<text transform="translate(412.9,30.7) scale(0.995,1)">PI-IL/1% MOF</text>
<path d="M374.1,47.8H408.3" stroke="#0A5CE6" stroke-width="2.9" stroke-linecap="round" fill="none"/>
<text transform="translate(412.9,53.4) scale(0.995,1)">PI-IL/2% MOF</text>
<path d="M374.1,70.5H408.3" stroke="#0BA35A" stroke-width="2.9" stroke-linecap="round" fill="none"/>
<text transform="translate(412.9,76.1) scale(0.995,1)">PI-IL/3% MOF</text>
<path d="M374.1,93.1H408.3" stroke="#606060" stroke-width="2.9" stroke-linecap="round" fill="none"/>
<text transform="translate(412.9,98.7) scale(0.995,1)">PI-IL/4% MOF</text>
<path d="M374.1,115.8H408.3" stroke="#C47AE8" stroke-width="2.9" stroke-linecap="round" fill="none"/>
<text transform="translate(412.9,121.4) scale(0.995,1)">PI-IL/5% MOF</text>
<path d="M374.1,138.5H408.3" stroke="#DC960A" stroke-width="2.9" stroke-linecap="round" fill="none"/>
<text transform="translate(412.9,144.1) scale(0.995,1)">PI-IL</text>
<path d="M374.1,161.2H408.3" stroke="#12C8CC" stroke-width="2.9" stroke-linecap="round" fill="none"/>
<text transform="translate(412.9,166.8) scale(0.995,1)">PI</text>
<path d="M374.1,183.9H408.3" stroke="#B400D2" stroke-width="2.9" stroke-linecap="round" fill="none"/>
<text transform="translate(412.9,189.5) scale(0.995,1)">MOF</text>
</g>
</svg>
</body></html>
